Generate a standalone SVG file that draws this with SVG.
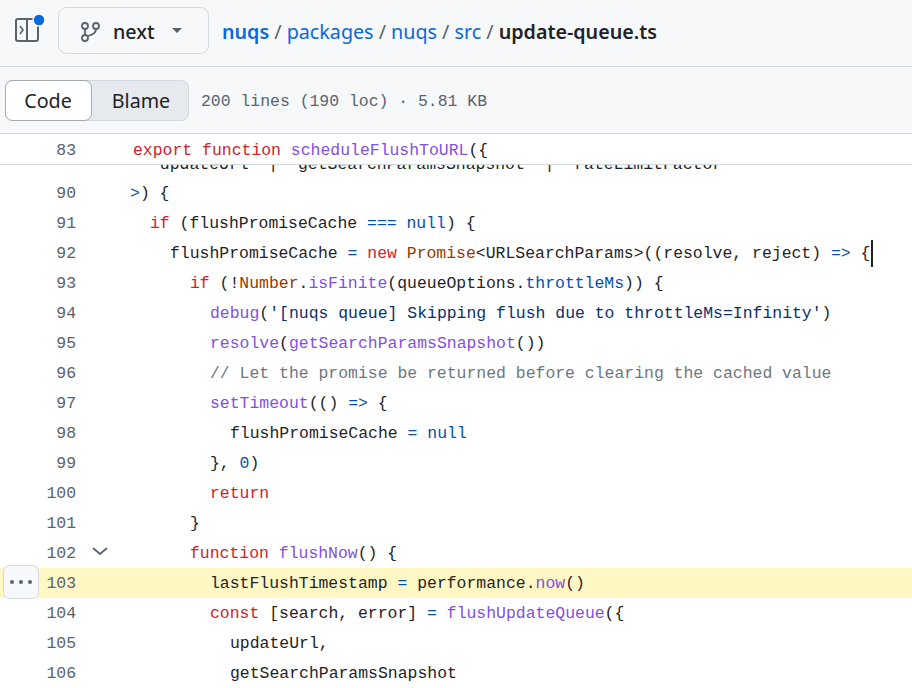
<svg xmlns="http://www.w3.org/2000/svg" width="912" height="688" viewBox="0 0 912 688">
<style>
.m{font-family:"Liberation Mono",monospace;font-size:16.45px;fill:#1f2328;white-space:pre}
.ln{font-family:"Liberation Mono",monospace;font-size:16.45px;fill:#59636e;text-anchor:end}
.s{font-family:"Noto Sans","Liberation Sans",sans-serif;font-size:19.7px}
.k{fill:#cf222e}.f{fill:#8250df}.c{fill:#0550ae}.o{fill:#953800}.st{fill:#0a3069}.cm{fill:#6e7781}
</style>
<defs><clipPath id="below"><rect x="0" y="165" width="912" height="20"/></clipPath></defs>
<rect width="912" height="688" fill="#fff"/>
<g id="topbar">
<rect width="912" height="133" fill="#f6f8fa"/>
<line x1="0" y1="66.5" x2="912" y2="66.5" stroke="#d1d9e0"/>
<line x1="0" y1="133.5" x2="912" y2="133.5" stroke="#d1d9e0"/>
<rect x="16" y="19" width="22" height="22" rx="2" fill="none" stroke="#59636e" stroke-width="2"/>
<line x1="27" y1="19" x2="27" y2="41" stroke="#59636e" stroke-width="2"/>
<path d="M20 26l3 4-3 4" fill="none" stroke="#59636e" stroke-width="1.6"/>
<circle cx="39" cy="20" r="6" fill="#0969da" stroke="#f6f8fa" stroke-width="1.5"/>
<rect x="58.5" y="7.5" width="150" height="46" rx="8" fill="#f6f8fa" stroke="#d1d9e0"/>
<g fill="none" stroke="#59636e" stroke-width="1.8"><circle cx="85" cy="26" r="3"/><circle cx="85" cy="38" r="3"/><circle cx="96" cy="26" r="3"/><line x1="85" y1="29" x2="85" y2="35"/><path d="M96 29q0 5-8 7"/></g>
<text x="113" y="39" class="s" fill="#1f2328" font-weight="500">next</text>
<path d="M172 28h10l-5 5z" fill="#59636e"/>
<text x="222" y="39" class="s"><tspan fill="#0969da" font-weight="600">nuqs</tspan><tspan fill="#59636e"> / </tspan><tspan fill="#0969da">packages</tspan><tspan fill="#59636e"> / </tspan><tspan fill="#0969da">nuqs</tspan><tspan fill="#59636e"> / </tspan><tspan fill="#0969da">src</tspan><tspan fill="#59636e"> / </tspan><tspan fill="#1f2328" font-weight="600">update-queue.ts</tspan></text>
<rect x="5.5" y="80.5" width="183" height="40" rx="7" fill="#e6eaef" stroke="#d1d9e0"/>
<rect x="5.5" y="80.5" width="86" height="40" rx="7" fill="#fff" stroke="#59636e" stroke-opacity="0.5"/>
<text x="48" y="108" class="s" fill="#1f2328" text-anchor="middle">Code</text>
<text x="141" y="108" class="s" fill="#1f2328" text-anchor="middle">Blame</text>
<text x="201" y="106" class="m" style="fill:#59636e">200 lines (190 loc) · 5.81 KB</text>
</g>
<g id="code">
<rect x="0" y="568" width="912" height="30" fill="#fff8c5"/>
<text x="150" y="169" class="m" clip-path="url(#below)">'updateUrl' | 'getSearchParamsSnapshot' | 'rateLimitFactor'</text>
<text class="ln" x="76" y="198">90</text><text x="130" y="198" class="m"><tspan class="c">&gt;</tspan>) {</text>
<text class="ln" x="76" y="228">91</text><text x="150" y="228" class="m"><tspan class="k">if</tspan> (flushPromiseCache <tspan class="c">===</tspan> <tspan class="c">null</tspan>) {</text>
<text class="ln" x="76" y="258">92</text><text x="170" y="258" class="m">flushPromiseCache <tspan class="c">=</tspan> <tspan class="k">new</tspan> <tspan class="o">Promise</tspan>&lt;URLSearchParams&gt;((resolve, reject) <tspan class="c">=&gt;</tspan> {</text>
<rect x="871" y="240" width="2" height="27" fill="#1f2328"/>
<text class="ln" x="76" y="288">93</text><text x="190" y="288" class="m"><tspan class="k">if</tspan> (!<tspan class="o">Number</tspan>.<tspan class="f">isFinite</tspan>(queueOptions.<tspan class="c">throttleMs</tspan>)) {</text>
<text class="ln" x="76" y="318">94</text><text x="210" y="318" class="m"><tspan class="f">debug</tspan>(<tspan class="st">'[nuqs queue] Skipping flush due to throttleMs=Infinity'</tspan>)</text>
<text class="ln" x="76" y="348">95</text><text x="210" y="348" class="m"><tspan class="f">resolve</tspan>(<tspan class="f">getSearchParamsSnapshot</tspan>())</text>
<text class="ln" x="76" y="378">96</text><text x="210" y="378" class="m" style="fill:#6e7781">// Let the promise be returned before clearing the cached value</text>
<text class="ln" x="76" y="408">97</text><text x="210" y="408" class="m"><tspan class="f">setTimeout</tspan>(() <tspan class="c">=&gt;</tspan> {</text>
<text class="ln" x="76" y="438">98</text><text x="230" y="438" class="m">flushPromiseCache <tspan class="c">=</tspan> <tspan class="c">null</tspan></text>
<text class="ln" x="76" y="468">99</text><text x="210" y="468" class="m">}, <tspan class="c">0</tspan>)</text>
<text class="ln" x="76" y="498">100</text><text x="210" y="498" class="m"><tspan class="k">return</tspan></text>
<text class="ln" x="76" y="528">101</text><text x="190" y="528" class="m">}</text>
<text class="ln" x="76" y="558">102</text><text x="190" y="558" class="m"><tspan class="k">function</tspan> <tspan class="f">flushNow</tspan>() {</text>
<path d="M93 548l7 6 7-6" fill="none" stroke="#59636e" stroke-width="1.8"/>
<text class="ln" x="76" y="588">103</text><text x="210" y="588" class="m">lastFlushTimestamp <tspan class="c">=</tspan> performance.<tspan class="f">now</tspan>()</text>
<text class="ln" x="76" y="618">104</text><text x="210" y="618" class="m"><tspan class="k">const</tspan> [search, error] <tspan class="c">=</tspan> <tspan class="f">flushUpdateQueue</tspan>({</text>
<text class="ln" x="76" y="648">105</text><text x="230" y="648" class="m">updateUrl,</text>
<text class="ln" x="76" y="678">106</text><text x="230" y="678" class="m">getSearchParamsSnapshot</text>
<rect x="3.5" y="565.5" width="35" height="33" rx="6" fill="#f6f8fa" stroke="#d1d9e0"/>
<g fill="#59636e"><circle cx="12" cy="582" r="2"/><circle cx="21" cy="582" r="2"/><circle cx="30" cy="582" r="2"/></g>
</g>
<g id="sticky">
<rect x="0" y="134" width="912" height="30" fill="#fff"/>
<line x1="0" y1="164.5" x2="912" y2="164.5" stroke="#d1d9e0"/>
<text class="ln" x="76" y="155">83</text>
<text x="133" y="155" class="m"><tspan class="k">export</tspan> <tspan class="k">function</tspan> <tspan class="f">scheduleFlushToURL</tspan>({</text>
</g>
</svg>
